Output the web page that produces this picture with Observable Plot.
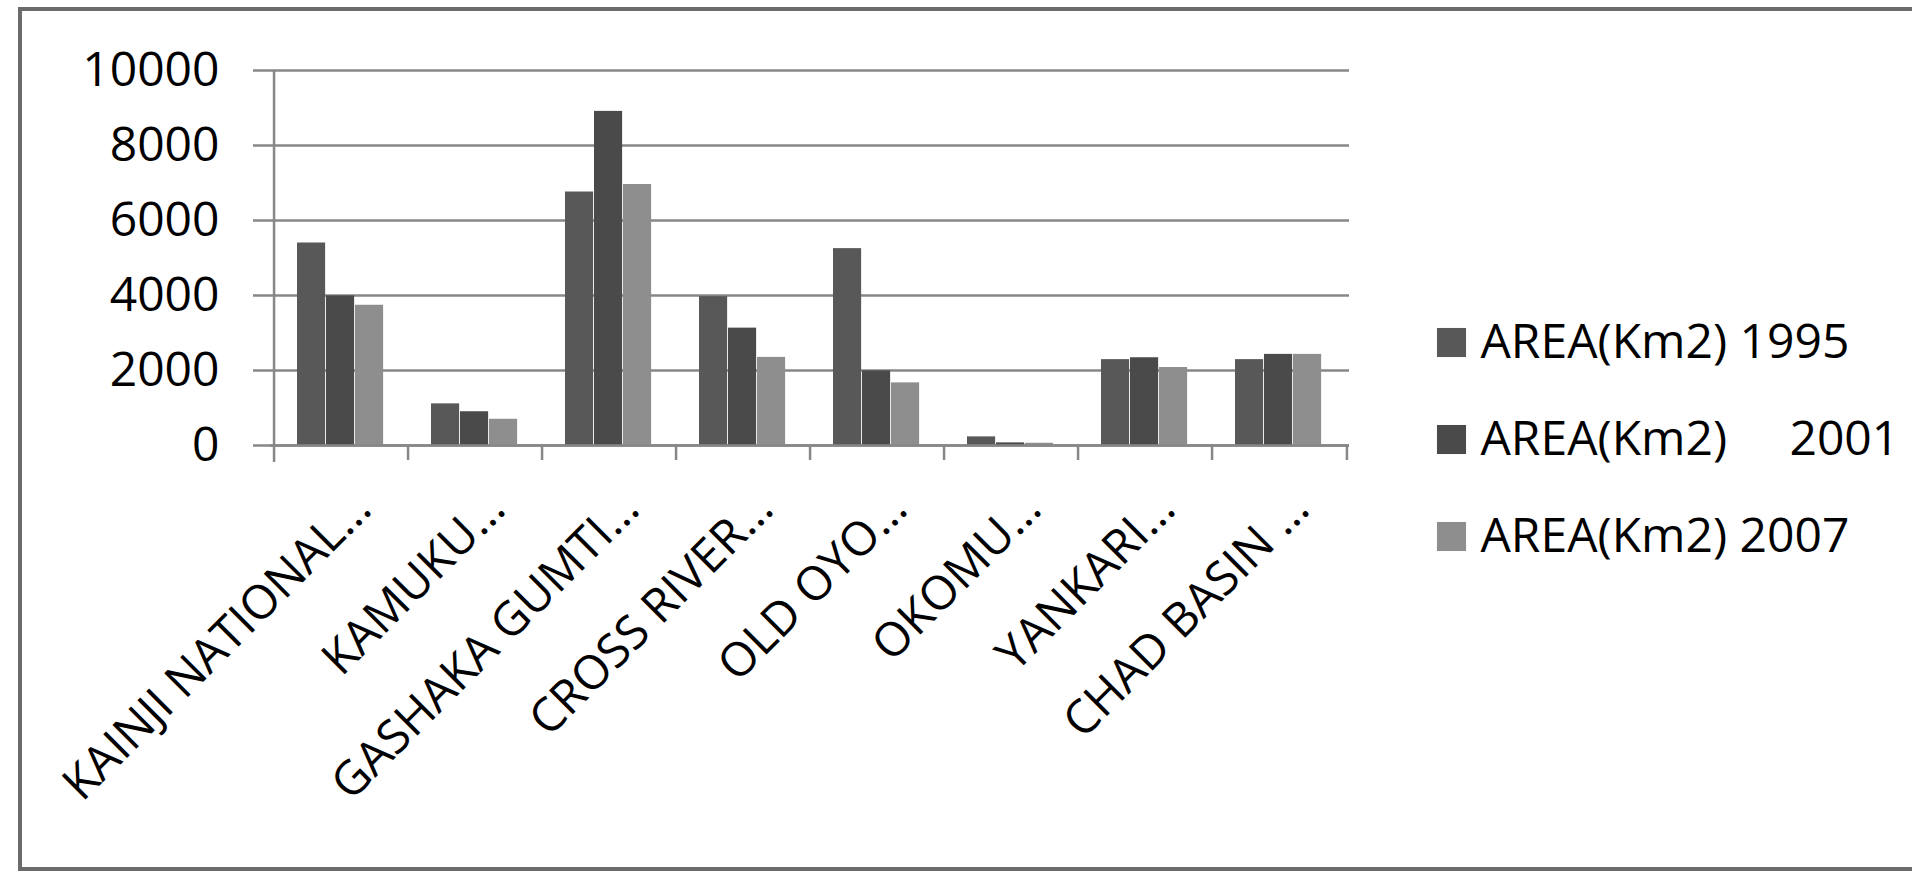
<!DOCTYPE html>
<html><head><meta charset="utf-8">
<script src="https://cdn.jsdelivr.net/npm/d3@7"></script>
<script src="https://cdn.jsdelivr.net/npm/@observablehq/plot@0.6"></script>
<style>
html,body{margin:0;padding:0;background:#fff;}
#wrap{position:relative;width:1912px;height:879px;overflow:hidden;}
#border{position:absolute;left:18px;top:7px;width:1920px;height:856px;border-left:4px solid #6b6b6b;border-top:4px solid #6b6b6b;border-bottom:4px solid #6b6b6b;pointer-events:none;}
svg text{white-space:pre;}
</style></head><body>
<div id="wrap"></div>
<script>
// ---- data ----
const parks = ["KAINJI NATIONAL…", "KAMUKU…", "GASHAKA GUMTI…", "CROSS RIVER…", "OLD OYO…", "OKOMU…", "YANKARI…", "CHAD BASIN …"];
const area1995 = [5400, 1110, 6760, 3970, 5250, 230, 2290, 2290];
const area2001 = [3990, 900, 8910, 3130, 1990, 70, 2340, 2430];
const area2007 = [3740, 700, 6960, 2350, 1670, 60, 2080, 2430];
const seriesLabels = ["AREA(Km2) 1995", "AREA(Km2)     2001", "AREA(Km2) 2007"];
const yTicks = [0, 2000, 4000, 6000, 8000, 10000];
const yTickLabels = ["0", "2000", "4000", "6000", "8000", "10000"];

// ---- styling ----
const seriesColors = ["#585858", "#4a4a4a", "#8e8e8e"];
const gridColor = "#878787";
const W = 1912, H = 879;
const mL = 270, mR = 563, mT = 70, mB = 434;
const bw = (W - mL - mR) / parks.length;
const barW = 29, groupOffset = 23;

const seriesValues = [area1995, area2001, area2007];
const tables = seriesValues.map(vals => parks.map((park, j) => ({park, value: vals[j]})));

const chart = Plot.plot({
  width: W, height: H,
  marginLeft: mL, marginRight: mR, marginTop: mT, marginBottom: mB,
  style: {fontFamily: "'Open Sans', sans-serif", background: "transparent", color: "#000"},
  x: {domain: parks, padding: 0, axis: null},
  y: {domain: [0, 10000], axis: null},
  marks: [
    Plot.ruleY(yTicks, {stroke: gridColor, strokeWidth: 2.5}),
    ...tables.map((t, i) => Plot.barY(t, {
      x: "park", y: "value", fill: seriesColors[i],
      insetLeft: groupOffset + barW * i,
      insetRight: bw - groupOffset - barW * (i + 1)
    })),
    Plot.ruleY([0], {stroke: gridColor, strokeWidth: 2.5}),
    Plot.ruleX([parks[0]], {x: d => d, dx: -bw / 2, y1: -450, y2: 10000, stroke: gridColor, strokeWidth: 2.5}),
    Plot.ruleX(parks.slice(1), {x: d => d, dx: -bw / 2, y1: -400, y2: 0, stroke: gridColor, strokeWidth: 2.5}),
    Plot.ruleX([parks[parks.length - 1]], {x: d => d, dx: bw / 2, y1: -400, y2: 0, stroke: gridColor, strokeWidth: 2.5}),
    Plot.axisY(yTicks, {
      label: null,
      tickSize: 17, tickPadding: 34, stroke: gridColor, strokeWidth: 2.5, fill: "#000",
      fontSize: 48, tickFormat: d => yTickLabels[yTicks.indexOf(d)]
    }),
    Plot.text(parks, {
      x: d => d, text: d => d, frameAnchor: "bottom", rotate: -45, textAnchor: "end",
      lineAnchor: "bottom", dx: 32, dy: 66, fontSize: 47, fill: "#000"
    }),
    ...seriesLabels.map((label, i) => Plot.dot([label], {
      frameAnchor: "top-right", dx: 102, dy: 272 + 97 * i, symbol: "square", r: 16.4, fill: seriesColors[i]
    })),
    ...seriesLabels.map((label, i) => Plot.text([label], {
      text: d => d, frameAnchor: "top-right", lineAnchor: "middle", dx: 131, dy: 272 + 97 * i, textAnchor: "start",
      fontSize: 48, fill: "#000"
    }))
  ]
});
const wrap = document.getElementById("wrap");
wrap.appendChild(chart);
const border = document.createElement("div");
border.id = "border";
wrap.appendChild(border);
</script>
</body></html>
